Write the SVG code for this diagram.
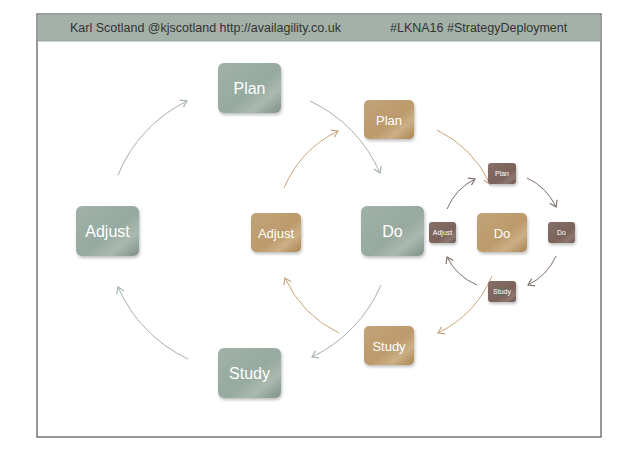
<svg xmlns="http://www.w3.org/2000/svg" width="638" height="451" viewBox="0 0 638 451">
<defs>
<linearGradient id="gGreen" x1="0" y1="0" x2="1" y2="1">
<stop offset="0" stop-color="#a0b2a8"/>
<stop offset="0.55" stop-color="#97aa9f"/>
<stop offset="0.75" stop-color="#a9b9b0"/>
<stop offset="1" stop-color="#7d9187"/>
</linearGradient>
<linearGradient id="gTan" x1="0" y1="0" x2="1" y2="1">
<stop offset="0" stop-color="#c2a47a"/>
<stop offset="0.55" stop-color="#bc9a6b"/>
<stop offset="0.75" stop-color="#cbaf86"/>
<stop offset="1" stop-color="#a9844f"/>
</linearGradient>
<linearGradient id="gBrown" x1="0" y1="0" x2="1" y2="1">
<stop offset="0" stop-color="#86706a"/>
<stop offset="0.6" stop-color="#7b625a"/>
<stop offset="0.8" stop-color="#8c766e"/>
<stop offset="1" stop-color="#6c544c"/>
</linearGradient>
<filter id="sh" x="-20%" y="-20%" width="150%" height="150%">
<feDropShadow dx="1" dy="2" stdDeviation="1.5" flood-color="#000" flood-opacity="0.25"/>
</filter>
<marker id="mG" markerWidth="10" markerHeight="10" refX="7" refY="5" orient="auto" markerUnits="userSpaceOnUse">
<path d="M1,1 L7,5 L1,9" fill="none" stroke="#a3b2ac" stroke-width="1.2"/>
</marker>
<marker id="mT" markerWidth="10" markerHeight="10" refX="7" refY="5" orient="auto" markerUnits="userSpaceOnUse">
<path d="M1,1 L7,5 L1,9" fill="none" stroke="#c6a57c" stroke-width="1.2"/>
</marker>
<marker id="mB" markerWidth="10" markerHeight="10" refX="7" refY="5" orient="auto" markerUnits="userSpaceOnUse">
<path d="M1,1 L7,5 L1,9" fill="none" stroke="#7f716c" stroke-width="1.2"/>
</marker>
</defs>
<style>
text { font-family: "Liberation Sans", Arial, sans-serif; fill: #ffffff; text-anchor: middle; }
.hdr { fill: #333333; text-anchor: start; font-size: 12.5px; }
.L rect { fill: url(#gGreen); filter: url(#sh); }
.M rect { fill: url(#gTan); filter: url(#sh); }
.S rect { fill: url(#gBrown); filter: url(#sh); }
.L text { font-size: 16px; }
.M text { font-size: 13px; }
.S text { font-size: 7px; }
.cg { fill: none; stroke: #a3b2ac; stroke-width: 1; marker-end: url(#mG); }
.ct { fill: none; stroke: #c6a57c; stroke-width: 1; marker-end: url(#mT); }
.cb { fill: none; stroke: #7f716c; stroke-width: 1; marker-end: url(#mB); }
</style>
<rect x="0" y="0" width="638" height="451" fill="#ffffff"/>
<g id="frame">
<rect x="37" y="14" width="564" height="423" fill="#ffffff" stroke="#555555" stroke-width="1.2"/>
<rect x="37.6" y="14.6" width="562.8" height="26.4" fill="#a4b1a9"/>
<line x1="37" y1="41" x2="601" y2="41" stroke="#97a59c" stroke-width="1"/>
<text class="hdr" x="70" y="32">Karl Scotland @kjscotland http://availagility.co.uk</text>
<text class="hdr" x="390" y="32">#LKNA16 #StrategyDeployment</text>
</g>
<g id="connectors">
<path class="cg" d="M118,175 A142,142 0 0 1 187,101"/>
<path class="cg" d="M310,101 A142,142 0 0 1 380,173"/>
<path class="cg" d="M381,285 A142,142 0 0 1 312,357"/>
<path class="cg" d="M188,359 A142,142 0 0 1 118,287"/>
<path class="ct" d="M284,188 A113,113 0 0 1 338,131"/>
<path class="ct" d="M437,130 A113,113 0 0 1 490,184"/>
<path class="ct" d="M492,276 A113,113 0 0 1 438,333"/>
<path class="ct" d="M339,333 A113,113 0 0 1 285,278"/>
<path class="cb" d="M447,209 A59,59 0 0 1 475,179"/>
<path class="cb" d="M527,178 A59,59 0 0 1 556,207"/>
<path class="cb" d="M556,256 A59,59 0 0 1 528,285"/>
<path class="cb" d="M477,285 A59,59 0 0 1 447,257"/>
</g>
<g id="plan-large" class="L"><rect x="218" y="63" width="63" height="50" rx="6"/><text x="249.5" y="94">Plan</text></g>
<g id="do-large" class="L"><rect x="361" y="206" width="63" height="50" rx="6"/><text x="392.5" y="237">Do</text></g>
<g id="study-large" class="L"><rect x="218" y="348" width="63" height="50" rx="6"/><text x="249.5" y="379">Study</text></g>
<g id="adjust-large" class="L"><rect x="76" y="206" width="63" height="50" rx="6"/><text x="107.5" y="237">Adjust</text></g>
<g id="plan-mid" class="M"><rect x="364" y="100" width="50" height="39" rx="5"/><text x="389" y="124.5">Plan</text></g>
<g id="do-mid" class="M"><rect x="477" y="213" width="50" height="39" rx="5"/><text x="502" y="237.5">Do</text></g>
<g id="study-mid" class="M"><rect x="364" y="326" width="50" height="39" rx="5"/><text x="389" y="350.5">Study</text></g>
<g id="adjust-mid" class="M"><rect x="251" y="213" width="50" height="39" rx="5"/><text x="276" y="237.5">Adjust</text></g>
<g id="plan-small" class="S"><rect x="488" y="163" width="28" height="21" rx="3"/><text x="502" y="176">Plan</text></g>
<g id="do-small" class="S"><rect x="548" y="222" width="27" height="21" rx="3"/><text x="561.5" y="235">Do</text></g>
<g id="study-small" class="S"><rect x="488" y="281" width="28" height="21" rx="3"/><text x="502" y="294">Study</text></g>
<g id="adjust-small" class="S"><rect x="429" y="222" width="27" height="21" rx="3"/><text x="442.5" y="235">Adjust</text></g>
</svg>
